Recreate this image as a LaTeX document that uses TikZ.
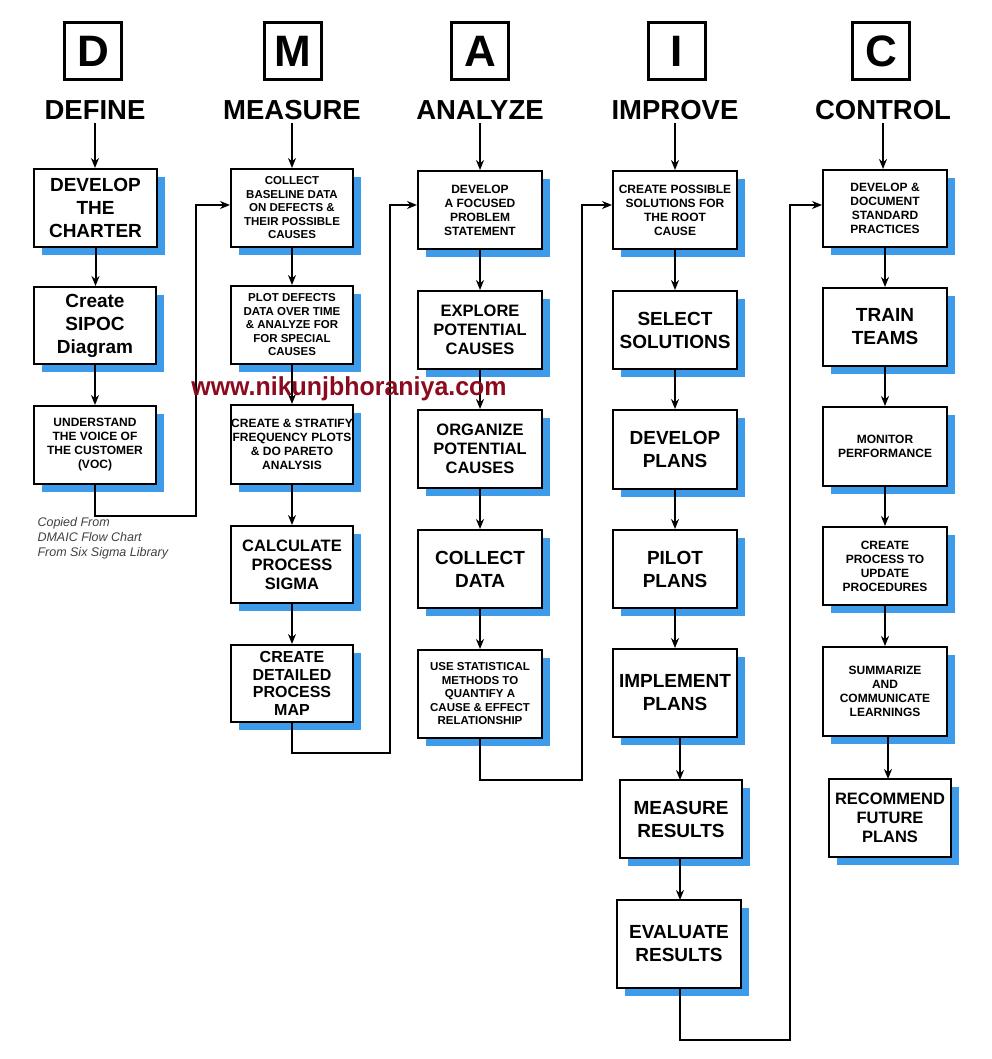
\documentclass[tikz,border=0pt]{standalone}
\usepackage{fontspec}
\setmainfont{Liberation Sans}
\usetikzlibrary{arrows.meta}
\definecolor{shad}{HTML}{3D9BE9}
\definecolor{wm}{HTML}{8B0A1E}
\tikzset{
 bx/.style={draw=black,line width=2pt,fill=white,align=center,inner sep=0pt,font=\bfseries},
 letter/.style={draw=black,line width=3pt,minimum width=57pt,minimum height=57pt,font=\fontsize{44}{44}\selectfont\bfseries},
 ttl/.style={font=\fontsize{27.5}{28}\selectfont\bfseries},
 con/.style={line width=2pt,-{Stealth[length=10pt,width=8pt]}},
 big/.style={font=\fontsize{19}{23}\selectfont\bfseries},
 med/.style={font=\fontsize{16.5}{19}\selectfont\bfseries},
 medt/.style={font=\fontsize{16}{17.5}\selectfont\bfseries},
 sml/.style={font=\fontsize{12}{14}\selectfont\bfseries},
 tiny/.style={font=\fontsize{11.5}{13.5}\selectfont\bfseries},
}
\newcommand{\bbox}[7]{% name, x1,y1,x2,y2, style, text
 \fill[shad] (#2+8,#3+8) rectangle (#4+8,#5+8);
 \node[bx,#6,minimum width=#4-#2,minimum height=#5-#3] (#1) at ({(#2+#4)/2},{(#3+#5)/2}) {#7};
}
\begin{document}
\begin{tikzpicture}[x=1pt,y=-1pt]
\useasboundingbox (0,0) rectangle (992,1059);
\node[letter] (lD) at (93,51) {D};
\node[letter] (lM) at (293,51) {M};
\node[letter] (lA) at (480,51) {A};
\node[letter] (lI) at (677,51) {I};
\node[letter] (lC) at (881,51) {C};
\node[ttl] (tD) at (95,110) {DEFINE};
\node[ttl] (tM) at (292,110) {MEASURE};
\node[ttl] (tA) at (480,110) {ANALYZE};
\node[ttl] (tI) at (675,110) {IMPROVE};
\node[ttl] (tC) at (883,110) {CONTROL};
% Define
\bbox{d1}{34}{169}{157}{247}{big}{DEVELOP\\THE\\CHARTER}
\bbox{d2}{34}{287}{156}{364}{big}{Create\\SIPOC\\Diagram}
\bbox{d3}{34}{406}{156}{484}{sml}{UNDERSTAND\\THE VOICE OF\\THE CUSTOMER\\(VOC)}
% Measure
\bbox{m1}{231}{169}{353}{247}{tiny}{COLLECT\\BASELINE DATA\\ON DEFECTS \&\\THEIR POSSIBLE\\CAUSES}
\bbox{m2}{231}{286}{353}{364}{tiny}{PLOT DEFECTS\\DATA OVER TIME\\\& ANALYZE FOR\\FOR SPECIAL\\CAUSES}
\bbox{m3}{231}{405}{353}{484}{sml}{CREATE \& STRATIFY\\FREQUENCY PLOTS\\\& DO PARETO\\ANALYSIS}
\bbox{m4}{231}{526}{353}{603}{med}{CALCULATE\\PROCESS\\SIGMA}
\bbox{m5}{231}{645}{353}{722}{medt}{CREATE\\DETAILED\\PROCESS\\MAP}
% Analyze
\bbox{a1}{418}{171}{542}{249}{sml}{DEVELOP\\A FOCUSED\\PROBLEM\\STATEMENT}
\bbox{a2}{418}{291}{542}{369}{med}{EXPLORE\\POTENTIAL\\CAUSES}
\bbox{a3}{418}{410}{542}{488}{med}{ORGANIZE\\POTENTIAL\\CAUSES}
\bbox{a4}{418}{530}{542}{608}{big}{COLLECT\\DATA}
\bbox{a5}{418}{650}{542}{738}{tiny}{USE STATISTICAL\\METHODS TO\\QUANTIFY A\\CAUSE \& EFFECT\\RELATIONSHIP}
% Improve
\bbox{i1}{613}{171}{737}{249}{sml}{CREATE POSSIBLE\\SOLUTIONS FOR\\THE ROOT\\CAUSE}
\bbox{i2}{613}{291}{737}{369}{big}{SELECT\\SOLUTIONS}
\bbox{i3}{613}{410}{737}{489}{big}{DEVELOP\\PLANS}
\bbox{i4}{613}{530}{737}{608}{big}{PILOT\\PLANS}
\bbox{i5}{613}{649}{737}{737}{big}{IMPLEMENT\\PLANS}
\bbox{i6}{620}{780}{742}{858}{big}{MEASURE\\RESULTS}
\bbox{i7}{617}{900}{741}{988}{big}{EVALUATE\\RESULTS}
% Control
\bbox{c1}{823}{170}{947}{247}{sml}{DEVELOP \&\\DOCUMENT\\STANDARD\\PRACTICES}
\bbox{c2}{823}{288}{947}{366}{big}{TRAIN\\TEAMS}
\bbox{c3}{823}{407}{947}{486}{sml}{MONITOR\\PERFORMANCE}
\bbox{c4}{823}{527}{947}{605}{sml}{CREATE\\PROCESS TO\\UPDATE\\PROCEDURES}
\bbox{c5}{823}{647}{947}{736}{sml}{SUMMARIZE\\AND\\COMMUNICATE\\LEARNINGS}
\bbox{c6}{829}{779}{951}{857}{med}{RECOMMEND\\FUTURE\\PLANS}
% vertical arrows
\foreach \t/\b in {tD/d1,tM/m1,tA/a1,tI/i1,tC/c1}{\draw[con] (\t.south) -- (\t.south |- \b.north);}
\foreach \a/\b in {d1/d2,d2/d3,m1/m2,m2/m3,m3/m4,m4/m5,a1/a2,a2/a3,a3/a4,a4/a5,i1/i2,i2/i3,i3/i4,i4/i5,c1/c2,c2/c3,c3/c4,c4/c5}{\draw[con] (\a.south) -- (\a.south |- \b.north);}
\draw[con] (i5.south -| 680,0) -- (680,780);
\draw[con] (i6.south -| 680,0) -- (680,900);
\draw[con] (c5.south -| 888,0) -- (888,779);
% cross connectors
\coordinate (k1) at (95,516); \coordinate (k2) at (196,516);
\draw[con] (d3.south) -- (d3.south |- k1) -- (k2) -- (196,205) -- (m1.west |- 0,205);
\draw[con] (m5.south) -- (m5.south |- 0,753) -- (390,753) -- (390,205) -- (a1.west |- 0,205);
\draw[con] (a5.south) -- (a5.south |- 0,780) -- (582,780) -- (582,205) -- (i1.west |- 0,205);
\draw[con] (i7.south -| 680,0) -- (680,1040) -- (790,1040) -- (790,205) -- (c1.west |- 0,205);
% note
\node[anchor=north west,align=left,text=black!75,font=\fontsize{12.5}{15}\selectfont\itshape] (note) at (34,514) {Copied From\\DMAIC Flow Chart\\From Six Sigma Library};
% watermark
\node[text=wm,font=\fontsize{26}{26}\selectfont\bfseries,xscale=0.96] (wmk) at (349,389) {www.nikunjbhoraniya.com};
\end{tikzpicture}
\end{document}
